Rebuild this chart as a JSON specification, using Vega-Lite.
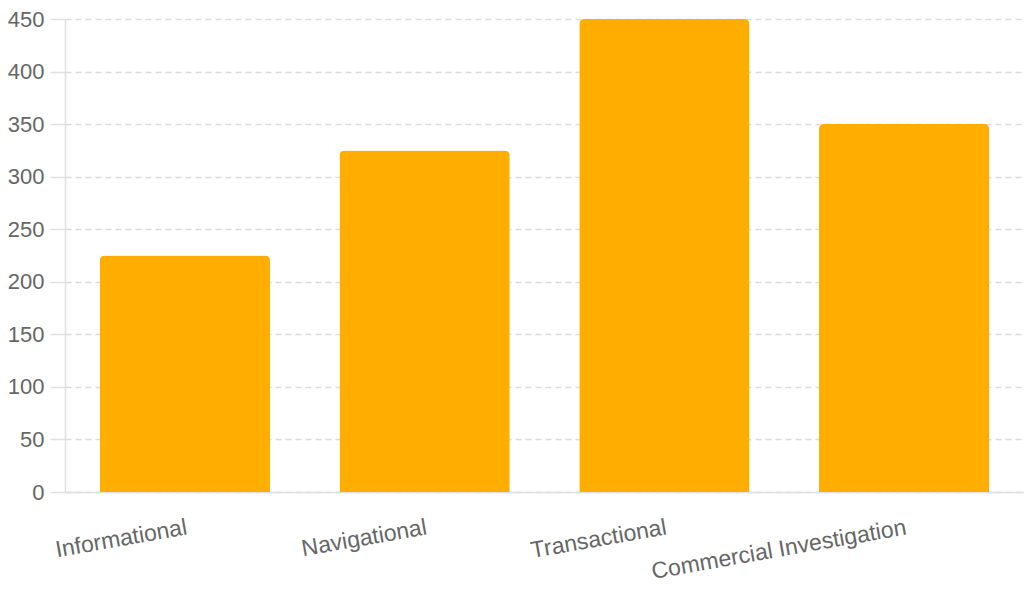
{
  "$schema": "https://vega.github.io/schema/vega-lite/v6.json",
  "autosize": "none",
  "padding": {"left": 65, "top": 19, "right": 0, "bottom": 101},
  "width": 959,
  "height": 473,
  "data": {
    "values": [
      {"category": "Informational", "value": 225},
      {"category": "Navigational", "value": 325},
      {"category": "Transactional", "value": 450},
      {"category": "Commercial Investigation", "value": 350}
    ]
  },
  "mark": {"type": "bar", "color": "#FFAE00", "cornerRadiusTopLeft": 5, "cornerRadiusTopRight": 5},
  "encoding": {
    "x": {
      "field": "category",
      "type": "nominal",
      "sort": null,
      "title": null,
      "scale": {"paddingInner": 0.29, "paddingOuter": 0.145},
      "axis": {
        "labelAngle": -10,
        "labelAlign": "right",
        "labelBaseline": "top",
        "labelPadding": 24,
        "labelFontSize": 23,
        "labelLimit": 0,
        "labelColor": "#666666",
        "labelFont": "Liberation Sans",
        "ticks": false,
        "domainColor": "#e0e0e0",
        "domainWidth": 1.5,
        "grid": false
      }
    },
    "y": {
      "field": "value",
      "type": "quantitative",
      "title": null,
      "scale": {"domain": [0, 450], "nice": false},
      "axis": {
        "values": [0, 50, 100, 150, 200, 250, 300, 350, 400, 450],
        "labelFontSize": 22,
        "labelColor": "#666666",
        "labelFont": "Liberation Sans",
        "labelPadding": 6,
        "tickSize": 15,
        "tickColor": "#e0e0e0",
        "tickWidth": 1.5,
        "domainColor": "#e0e0e0",
        "domainWidth": 1.5,
        "gridColor": "#dcdcdc",
        "gridDash": [6, 4],
        "gridWidth": 1.3
      }
    }
  },
  "config": {"view": {"stroke": null}}
}
